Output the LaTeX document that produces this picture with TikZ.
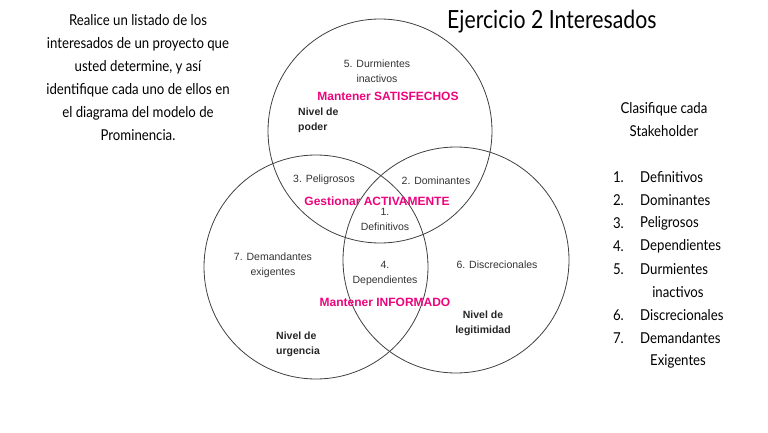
\documentclass[tikz,border=0pt]{standalone}
\usepackage{fontspec}
\setmainfont{Lato}
\newfontfamily\lab{Liberation Sans}
\begin{document}
\begin{tikzpicture}[x=1pt,y=-1pt,
  circ/.style={draw=black!75,line width=0.8pt},
  txt/.style={font=\fontsize{15}{23}\selectfont\addfontfeature{FakeStretch=0.88}, inner sep=0pt},
  lbl/.style={font=\lab\fontsize{10.5}{15}\selectfont, text=black!80, inner sep=0pt, align=center},
  bl/.style={font=\lab\bfseries\fontsize{10.5}{15}\selectfont, text=black!85, inner sep=0pt},
  pk/.style={font=\lab\bfseries\fontsize{12}{14}\selectfont, text=magenta!85!red, inner sep=0pt}]
\useasboundingbox (0,0) rectangle (768,433);
\draw[circ] (380,131) circle (112) coordinate (ctop);
\draw[circ] (316,267) circle (112);
\draw[circ] (456,260) circle (113);
\node[txt,align=center] (intro) at (138,78) {Realice un listado de los\\interesados de un proyecto que\\usted determine, y así\\identifique cada uno de ellos en\\el diagrama del modelo de\\Prominencia.};
\node[font=\fontsize{25}{28}\selectfont\addfontfeature{FakeStretch=0.85},anchor=west,inner sep=0pt] (title) at (447,22) {Ejercicio 2 Interesados};
\node[txt,align=center] (cl) at (664,120) {Clasifique cada\\Stakeholder};
\foreach \n/\t/\y in {1./Definitivos/177,2./Dominantes/200,3./Peligrosos/223,4./Dependientes/246,5./Durmientes/269,6./Discrecionales/315,7./Demandantes/338}{
  \node[txt,anchor=east] (n\y) at (624,\y) {\n};
  \node[txt,anchor=west] (t\y) at (640,\y) {\t};
}
\node[txt] (ina) at (678,292) {inactivos};
\node[txt] (exi) at (678,361) {Exigentes};
\node[lbl] (d5) at (377,71) {5. Durmientes\\inactivos};
\node[pk] (ms) at (388,96) {Mantener SATISFECHOS};
\node[bl,align=left,anchor=west] (np) at (298,120) {Nivel de\\poder};
\node[lbl] (p3) at (324,180) {3. Peligrosos};
\node[lbl] (d2) at (436,181) {2. Dominantes};
\node[pk] (ga) at (377,201) {Gestionar ACTIVAMENTE};
\node[lbl] (d1) at (385,219) {1.\\Definitivos};
\node[lbl] (d7) at (273,265) {7. Demandantes\\exigentes};
\node[lbl] (d4) at (385,273) {4.\\Dependientes};
\node[lbl] (d6) at (497,265) {6. Discrecionales};
\node[pk] (mi) at (385,302) {Mantener INFORMADO};
\node[bl,align=center] (nl) at (483,323) {Nivel de\\legitimidad};
\node[bl,align=left,anchor=west] (nu) at (276,344) {Nivel de\\urgencia};
\end{tikzpicture}
\end{document}
